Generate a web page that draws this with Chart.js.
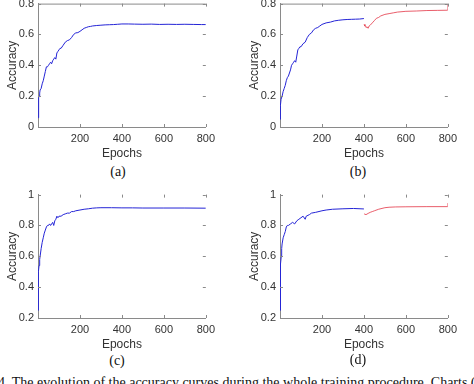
<!DOCTYPE html>
<html>
<head>
<meta charset="utf-8">
<script src="https://cdn.jsdelivr.net/npm/chart.js@4.4.1/dist/chart.umd.min.js"></script>
<style>
  body { margin: 0; background: #fff; width: 474px; height: 384px; overflow: hidden; position: relative; }
  .panel { position: absolute; width: 220px; height: 169px; }
  .lbl { position: absolute; font: 14px "Liberation Serif", serif; color: #111; transform: translate(-50%, -50%); }
  .caption { position: absolute; left: -2px; top: 375px; white-space: nowrap; font: 14px "Liberation Serif", serif; color: #111; }
</style>
</head>
<body>
<div class="panel" style="left:0;top:-7px"><canvas id="chartA"></canvas></div>
<div class="panel" style="left:242px;top:-7px"><canvas id="chartB"></canvas></div>
<div class="panel" style="left:0;top:184px"><canvas id="chartC"></canvas></div>
<div class="panel" style="left:242px;top:184px"><canvas id="chartD"></canvas></div>
<div class="lbl" style="left:118px;top:172px">(a)</div>
<div class="lbl" style="left:358px;top:172px">(b)</div>
<div class="lbl" style="left:117px;top:361px">(c)</div>
<div class="lbl" style="left:358px;top:360px">(d)</div>
<div class="caption">4. The evolution of the accuracy curves during the whole training procedure. Charts (a</div>
<script>
// ---- data ----
const xTicks = [200, 400, 600, 800];

// (a) single run
const aEpochs = [0, 2, 4, 6, 8, 10, 15, 20, 25, 30, 35, 40, 45, 50, 55, 60, 65, 70, 75, 80, 85, 90, 95, 100, 105, 110, 120, 130, 140, 150, 160, 170, 180, 190, 200, 210, 220, 230, 240, 250, 260, 280, 300, 320, 340, 360, 380, 400, 430, 460, 500, 540, 580, 620, 660, 700, 740, 780, 800];
const aAcc = [0.06, 0.16, 0.19, 0.2, 0.22, 0.24, 0.25, 0.28, 0.3, 0.33, 0.36, 0.39, 0.39, 0.4, 0.41, 0.42, 0.41, 0.43, 0.44, 0.45, 0.44, 0.48, 0.49, 0.5, 0.51, 0.51, 0.53, 0.55, 0.56, 0.565, 0.58, 0.6, 0.61, 0.612, 0.62, 0.63, 0.64, 0.645, 0.65, 0.652, 0.655, 0.658, 0.66, 0.662, 0.663, 0.664, 0.666, 0.668, 0.668, 0.667, 0.666, 0.667, 0.665, 0.666, 0.665, 0.666, 0.665, 0.664, 0.664];

// (b) two stages
const bBlueEpochs = [0, 2, 5, 10, 15, 20, 25, 30, 35, 40, 45, 50, 55, 60, 65, 70, 75, 80, 85, 90, 95, 100, 110, 120, 130, 140, 150, 160, 170, 180, 190, 200, 220, 240, 260, 280, 300, 320, 340, 360, 380, 400];
const bBlueAcc = [0.05, 0.14, 0.18, 0.2, 0.23, 0.25, 0.27, 0.3, 0.32, 0.33, 0.35, 0.37, 0.4, 0.41, 0.42, 0.43, 0.42, 0.46, 0.5, 0.51, 0.52, 0.52, 0.54, 0.55, 0.58, 0.6, 0.61, 0.63, 0.64, 0.645, 0.655, 0.665, 0.675, 0.68, 0.688, 0.692, 0.695, 0.697, 0.698, 0.699, 0.7, 0.703];
const bRedEpochs = [401, 405, 410, 415, 420, 425, 430, 440, 450, 460, 470, 480, 500, 520, 540, 560, 600, 650, 700, 750, 798, 800];
const bRedAcc = [0.665, 0.655, 0.645, 0.65, 0.64, 0.655, 0.66, 0.675, 0.69, 0.705, 0.71, 0.72, 0.73, 0.735, 0.74, 0.745, 0.75, 0.752, 0.755, 0.756, 0.757, 0.8];

// (c) single run
const cEpochs = [0, 1, 2, 3, 5, 8, 10, 15, 20, 25, 30, 35, 40, 45, 50, 55, 60, 65, 70, 75, 80, 85, 90, 95, 100, 110, 120, 130, 140, 150, 160, 170, 180, 200, 220, 240, 260, 280, 300, 350, 400, 450, 500, 600, 700, 800];
const cAcc = [0.25, 0.35, 0.45, 0.5, 0.54, 0.58, 0.6, 0.65, 0.69, 0.72, 0.75, 0.77, 0.79, 0.8, 0.8, 0.81, 0.8, 0.81, 0.82, 0.8, 0.83, 0.84, 0.86, 0.85, 0.86, 0.86, 0.87, 0.875, 0.88, 0.88, 0.89, 0.89, 0.895, 0.9, 0.905, 0.908, 0.912, 0.914, 0.915, 0.915, 0.914, 0.914, 0.913, 0.913, 0.913, 0.912];

// (d) two stages
const dBlueEpochs = [0, 1, 2, 4, 6, 8, 10, 15, 20, 25, 30, 35, 40, 50, 60, 70, 80, 90, 100, 110, 120, 125, 140, 150, 170, 200, 220, 250, 300, 350, 400];
const dBlueAcc = [0.25, 0.38, 0.5, 0.55, 0.6, 0.65, 0.68, 0.72, 0.74, 0.76, 0.79, 0.8, 0.8, 0.81, 0.82, 0.81, 0.83, 0.84, 0.85, 0.86, 0.84, 0.86, 0.87, 0.88, 0.885, 0.895, 0.9, 0.905, 0.908, 0.91, 0.907];
const dRedEpochs = [401, 410, 420, 430, 440, 450, 470, 500, 520, 550, 600, 700, 798, 800];
const dRedAcc = [0.875, 0.87, 0.878, 0.885, 0.89, 0.895, 0.905, 0.915, 0.918, 0.92, 0.921, 0.922, 0.922, 0.945];

// ---- styling ----
Chart.defaults.font.family = '"Liberation Sans", Arial, sans-serif';
Chart.defaults.color = '#333';
const blue = '#2424d6';
const red = 'rgba(226, 40, 58, 0.75)';
const axisGray = '#8a8a8a';

function pts(xs, ys) {
  return xs.map((x, i) => ({ x: x, y: ys[i] }));
}

// MATLAB-like frame: inward ticks on every side, optional top line
const framePlugin = {
  id: 'frame',
  afterDraw(chart, args, opts) {
    const { ctx, chartArea: a, scales } = chart;
    ctx.save();
    ctx.strokeStyle = axisGray;
    ctx.lineWidth = 1;
    ctx.beginPath();
    if (opts.topLine) {
      ctx.moveTo(a.left, a.top + 0.5);
      ctx.lineTo(a.right, a.top + 0.5);
    }
    scales.x.ticks.forEach(t => {
      const px = Math.round(scales.x.getPixelForValue(t.value)) + 0.5;
      ctx.moveTo(px, a.bottom); ctx.lineTo(px, a.bottom - 3);
      ctx.moveTo(px, a.top); ctx.lineTo(px, a.top + 3);
    });
    scales.y.ticks.forEach(t => {
      const py = Math.round(scales.y.getPixelForValue(t.value)) + 0.5;
      ctx.moveTo(a.left, py); ctx.lineTo(a.left + 3, py);
      ctx.moveTo(a.right, py); ctx.lineTo(a.right - 3, py);
    });
    ctx.stroke();
    ctx.restore();
  }
};

function makePanel(id, datasets, yMin, yMax, topLine) {
  new Chart(document.getElementById(id), {
    type: 'line',
    data: {
      datasets: datasets.map(d => ({
        data: d.data,
        borderColor: d.color,
        borderWidth: 1,
        pointRadius: 0,
        tension: 0,
        fill: false
      }))
    },
    options: {
      responsive: true,
      maintainAspectRatio: false,
      animation: false,
      layout: { padding: { top: 0, right: 13, left: 0, bottom: 0 } },
      plugins: {
        legend: { display: false },
        tooltip: { enabled: false },
        frame: { topLine: topLine }
      },
      scales: {
        x: {
          type: 'linear',
          min: 0, max: 800,
          afterFit: s => { s.height = 35; },
          grid: { display: false, drawTicks: false },
          border: { display: true, color: axisGray },
          ticks: {
            stepSize: 200, autoSkip: false, maxRotation: 0, padding: 5,
            font: { size: 11 },
            callback: v => (xTicks.includes(v) ? String(v) : '')
          },
          title: { display: true, text: 'Epochs', font: { size: 12 }, color: '#333', padding: { top: 0, bottom: 1 } }
        },
        y: {
          min: yMin, max: yMax,
          afterFit: s => { s.width = 38; },
          grid: { display: false, drawTicks: false },
          border: { display: true, color: axisGray },
          ticks: {
            stepSize: 0.2, autoSkip: false, padding: 4,
            font: { size: 11 },
            callback: v => String(Number(v.toFixed(1)))
          },
          title: { display: true, text: 'Accuracy', font: { size: 12 }, color: '#333', padding: { top: 5, bottom: 0 } }
        }
      }
    },
    plugins: [framePlugin]
  });
}

makePanel('chartA', [{ data: pts(aEpochs, aAcc), color: blue }], 0, 0.8, true);
makePanel('chartB', [
  { data: pts(bBlueEpochs, bBlueAcc), color: blue },
  { data: pts(bRedEpochs, bRedAcc), color: red }
], 0, 0.8, true);
makePanel('chartC', [{ data: pts(cEpochs, cAcc), color: blue }], 0.2, 1, false);
makePanel('chartD', [
  { data: pts(dBlueEpochs, dBlueAcc), color: blue },
  { data: pts(dRedEpochs, dRedAcc), color: red }
], 0.2, 1, false);
</script>
</body>
</html>
